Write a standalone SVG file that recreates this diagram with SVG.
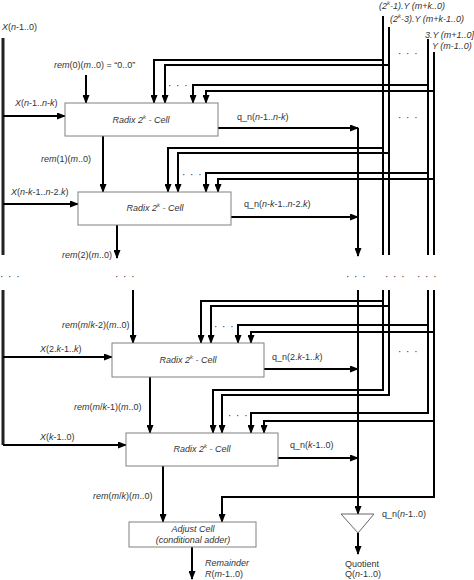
<svg xmlns="http://www.w3.org/2000/svg" width="474" height="580" viewBox="0 0 474 580">
<defs>
<marker id="ah" markerUnits="userSpaceOnUse" markerWidth="9" markerHeight="7" refX="8" refY="3.5" orient="auto">
<path d="M0,0 L9,3.5 L0,7 z" fill="#000"/>
</marker>
<style>
.w{fill:none;stroke:#000;stroke-width:2}
.a{fill:none;stroke:#000;stroke-width:2;marker-end:url(#ah)}
.bus{fill:none;stroke:#222;stroke-width:3}
.box{fill:#fff;stroke:#808080;stroke-width:1}
text{font-family:"Liberation Sans",Arial,sans-serif;font-size:9px;fill:#333}
.i{font-style:italic}
.c{text-anchor:middle}
.d{font-size:10px;letter-spacing:1px}
</style>
</defs>
<rect width="474" height="580" fill="#fff"/>
<g id="connectors">
<path class="bus" d="M3,38 V255 M3,290 V445"/>
<path class="a" d="M3,116 H65"/>
<path class="a" d="M3,204 H78"/>
<path class="a" d="M3,357 H112"/>
<path class="a" d="M3,445 H126"/>
<path class="w" d="M383,16 V255 M389,27 V255 M428,39 V255 M434,52 V255"/>
<path class="a" d="M86,75 V103"/>
<path class="a" d="M383,60 H154 V103"/>
<path class="a" d="M389,65 H165 V103"/>
<path class="a" d="M428,85 H193 V103"/>
<path class="a" d="M434,91 H206 V103"/>
<path class="a" d="M218,128 H358"/>
<path class="a" d="M358,128 V256"/>
<path class="a" d="M103,136 V192"/>
<path class="a" d="M383,148 H168 V192"/>
<path class="a" d="M389,153 H178 V192"/>
<path class="a" d="M428,173 H206 V192"/>
<path class="a" d="M434,179 H218 V192"/>
<path class="a" d="M231,217 H358"/>
<path class="a" d="M117,225 V258"/>
<path class="a" d="M133,290 V343"/>
<path class="a" d="M383,301 H201 V343"/>
<path class="a" d="M389,306 H211 V343"/>
<path class="a" d="M428,325 H238 V343"/>
<path class="a" d="M434,332 H251 V343"/>
<path class="a" d="M264,369 H358"/>
<path class="a" d="M150,377 V433"/>
<path class="a" d="M383,290 V390 H213 V433"/>
<path class="a" d="M389,290 V395 H222 V433"/>
<path class="a" d="M428,290 V413 H251 V433"/>
<path class="a" d="M434,290 V421 H264 V433"/>
<path class="a" d="M434,421 V497 H222 V522"/>
<path class="a" d="M278,458 H358"/>
<path class="a" d="M358,290 V514"/>
<path class="a" d="M358,533 V554"/>
<path class="a" d="M163,466 V522"/>
<path class="a" d="M192,547 V579"/>
</g>
<g id="cell1">
<rect class="box" x="65" y="103" width="153" height="33"/>
<text class="c i" x="141" y="123">Radix 2<tspan font-size="6" dy="-4">k</tspan><tspan dy="4"> - Cell</tspan></text>
</g>
<g id="cell2">
<rect class="box" x="78" y="192" width="153" height="33"/>
<text class="c i" x="155" y="211">Radix 2<tspan font-size="6" dy="-4">k</tspan><tspan dy="4"> - Cell</tspan></text>
</g>
<g id="cell3">
<rect class="box" x="112" y="343" width="152" height="34"/>
<text class="c i" x="188" y="363">Radix 2<tspan font-size="6" dy="-4">k</tspan><tspan dy="4"> - Cell</tspan></text>
</g>
<g id="cell4">
<rect class="box" x="126" y="433" width="152" height="33"/>
<text class="c i" x="202" y="452">Radix 2<tspan font-size="6" dy="-4">k</tspan><tspan dy="4"> - Cell</tspan></text>
</g>
<g id="adjust">
<rect class="box" x="129" y="522" width="127" height="25"/>
<text class="c i" x="193" y="532">Adjust Cell</text>
<text class="c i" x="193" y="543">(conditional adder)</text>
</g>
<g id="buffer">
<polygon points="341,514 374,514 358,533" fill="#fff" stroke="#666" stroke-width="1"/>
</g>
<g id="labels">
<text x="2" y="30"><tspan class="i">X</tspan>(<tspan class="i">n</tspan>-1..0)</text>
<text x="54" y="68"><tspan class="i">rem</tspan>(0)(<tspan class="i">m</tspan>..0) = “0..0”</text>
<text x="15" y="106"><tspan class="i">X</tspan>(<tspan class="i">n</tspan>-1..<tspan class="i">n</tspan>-<tspan class="i">k</tspan>)</text>
<text x="237" y="120">q_n(<tspan class="i">n</tspan>-1..<tspan class="i">n</tspan>-<tspan class="i">k</tspan>)</text>
<text x="41" y="162"><tspan class="i">rem</tspan>(1)(<tspan class="i">m</tspan>..0)</text>
<text x="11" y="195"><tspan class="i">X</tspan>(<tspan class="i">n</tspan>-<tspan class="i">k</tspan>-1..<tspan class="i">n</tspan>-2.<tspan class="i">k</tspan>)</text>
<text x="244" y="207">q_n(<tspan class="i">n</tspan>-<tspan class="i">k</tspan>-1..<tspan class="i">n</tspan>-2.<tspan class="i">k</tspan>)</text>
<text x="62" y="258"><tspan class="i">rem</tspan>(2)(<tspan class="i">m</tspan>..0)</text>
<text x="62" y="328"><tspan class="i">rem</tspan>(<tspan class="i">m</tspan>/<tspan class="i">k</tspan>-2)(<tspan class="i">m</tspan>..0)</text>
<text x="40" y="352"><tspan class="i">X</tspan>(2.<tspan class="i">k</tspan>-1..<tspan class="i">k</tspan>)</text>
<text x="272" y="360">q_n(2.<tspan class="i">k</tspan>-1..<tspan class="i">k</tspan>)</text>
<text x="74" y="410"><tspan class="i">rem</tspan>(<tspan class="i">m</tspan>/<tspan class="i">k</tspan>-1)(<tspan class="i">m</tspan>..0)</text>
<text x="40" y="440"><tspan class="i">X</tspan>(<tspan class="i">k</tspan>-1..0)</text>
<text x="290" y="448">q_n(<tspan class="i">k</tspan>-1..0)</text>
<text x="93" y="499"><tspan class="i">rem</tspan>(<tspan class="i">m</tspan>/<tspan class="i">k</tspan>)(<tspan class="i">m</tspan>..0)</text>
<text class="i" x="205" y="566">Remainder</text>
<text x="205" y="577"><tspan class="i">R</tspan>(<tspan class="i">m</tspan>-1..0)</text>
<text x="382" y="517">q_n(<tspan class="i">n</tspan>-1..0)</text>
<text x="345" y="567">Quotient</text>
<text x="345" y="577">Q(<tspan class="i">n</tspan>-1..0)</text>
<text class="i" x="379" y="9">(2<tspan font-size="6" dy="-4">k</tspan><tspan dy="4">-1).Y (</tspan>m+k..0)</text>
<text class="i" x="390" y="22">(2<tspan font-size="6" dy="-4">k</tspan><tspan dy="4">-3).Y (</tspan>m+k-1..0)</text>
<text class="i" x="425" y="38">3.Y (m+1..0]</text>
<text class="i" x="432" y="49">Y (m-1..0)</text>
</g>
<g id="dots">
<text class="d" x="168" y="89">· · ·</text>
<text class="d" x="182" y="178">· · ·</text>
<text class="d" x="214" y="330">· · ·</text>
<text class="d" x="228" y="419">· · ·</text>
<text class="d" x="398" y="57">· · ·</text>
<text class="d" x="398" y="121">· · ·</text>
<text class="d" x="398" y="355">· · ·</text>
<text class="d" x="0" y="280">· · ·</text>
<text class="d" x="115" y="280">· · ·</text>
<text class="d" x="346" y="280">· · ·</text>
<text class="d" x="385" y="280">· · ·</text>
<text class="d" x="417" y="280">· · ·</text>
</g>
</svg>
